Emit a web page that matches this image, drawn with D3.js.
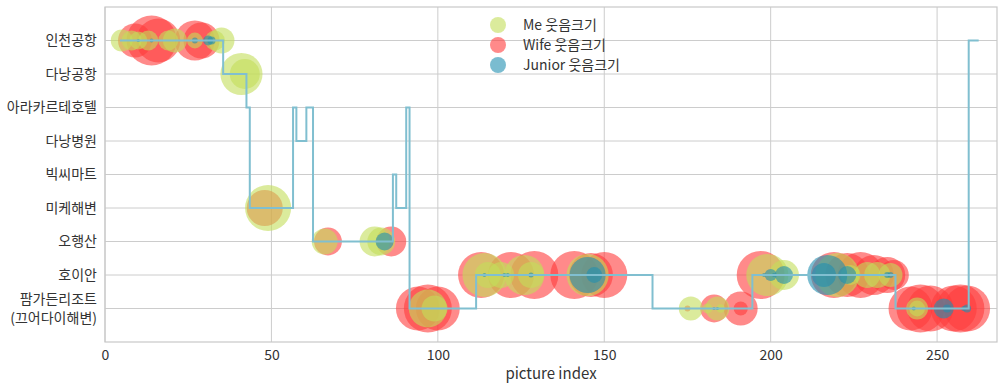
<!DOCTYPE html>
<html>
<head>
<meta charset="utf-8">
<script src="https://cdn.jsdelivr.net/npm/d3@7"></script>
<style>
  body { margin: 0; background: #fff; }
  text { font-family: "Noto Sans CJK KR", "Noto Sans", sans-serif; fill: #333; }
</style>
</head>
<body>
<div class="canvas"></div>
<script>
// places, top to bottom
const places = ["인천공항", "다낭공항", "아라카르테호텔", "다낭병원", "빅씨마트", "미케해변", "오행산", "호이안", "팜가든리조트\n(끄어다이해변)"];

// where the trip was: picture index at which each stay starts
const stepStart = [4.5, 35.5, 42.5, 43.5, 56.5, 57.5, 60.5, 62.5, 86.5, 87.5, 90.5, 91.5, 111.5, 164.5, 194.5, 237.5, 259.5];
const stepPlace = [0, 1, 2, 5, 2, 3, 2, 6, 4, 5, 2, 8, 7, 8, 7, 8, 0];
const stepEnd = 262.5;

// smile size per picture
const meIdx = [5, 8, 10, 13, 19, 21, 27, 33, 35, 41, 42, 49, 66, 81, 83, 97, 99, 114, 115, 119, 126, 128, 145, 176, 181, 184, 185, 199, 204, 220, 224, 229, 232, 236, 244, 244];
const meSmile = [19, 16, 13, 16, 16, 23, 10, 16, 27, 71, 36, 85, 27, 36, 31, 58, 27, 77, 27, 27, 64, 27, 71, 23, 4, 23, 3, 71, 36, 77, 16, 27, 27, 23, 19, 10];

const wifeIdx = [9, 14, 16, 27, 29, 48, 67, 86, 94, 97, 100, 113, 122, 129, 141, 146, 150, 175, 183, 191, 191, 197, 219, 223, 227, 231, 235, 237, 242, 245, 248, 255, 257, 259];
const wifeSmile = [46, 100, 77, 64, 52, 52, 31, 36, 77, 92, 77, 85, 85, 92, 92, 77, 85, 1.4, 31, 46, 8, 92, 85, 77, 85, 64, 52, 36, 77, 92, 85, 85, 92, 85];

const juniorIdx = [10, 14, 27, 31, 32, 84, 114, 120, 121, 128, 145, 147, 183, 184, 198, 200, 201, 204, 216, 217, 223, 235, 236, 243, 252, 253, 258, 259];
const juniorSmile = [0.4, 0.6, 1.4, 4, 2.6, 13, 0.6, 0.6, 0.6, 1, 52, 10, 0.4, 0.4, 0.6, 5.8, 0.6, 13, 23, 64, 13, 1.4, 1.4, 0.6, 16, 2.6, 1, 2.6];

const xTicks = [0, 50, 100, 150, 200, 250];

const dims = { width: 1003, height: 389 };
const margin = { top: 7, right: 6, bottom: 47, left: 105 };
const w = dims.width - margin.left - margin.right;
const h = dims.height - margin.top - margin.bottom;

const svg = d3
  .select(".canvas")
  .append("svg")
  .attr("width", dims.width)
  .attr("height", dims.height);

const graph = svg
  .append("g")
  .attr("transform", `translate(${margin.left}, ${margin.top})`);

const x = d3.scaleLinear().domain([0, 268]).range([0, w]);
const y = d3.scalePoint().domain(d3.range(places.length)).range([0, h]).padding(1);
const r = d3.scaleSqrt().domain([0, 100]).range([0, 25]);

const locAt = (i) => stepPlace[d3.bisectRight(stepStart, i) - 1];

// grid
graph
  .append("g")
  .selectAll("line")
  .data(xTicks)
  .join("line")
  .attr("x1", (d) => x(d))
  .attr("x2", (d) => x(d))
  .attr("y1", 0)
  .attr("y2", h)
  .attr("stroke", "#cccccc")
  .attr("stroke-width", 1);

graph
  .append("g")
  .selectAll("line")
  .data(y.domain())
  .join("line")
  .attr("x1", 0)
  .attr("x2", w)
  .attr("y1", (d) => y(d))
  .attr("y2", (d) => y(d))
  .attr("stroke", "#cccccc")
  .attr("stroke-width", 1);

graph
  .append("rect")
  .attr("width", w)
  .attr("height", h)
  .attr("fill", "none")
  .attr("stroke", "#c8c8c8")
  .attr("stroke-width", 1.2);

// bubbles
const series = [
  { name: "Wife", idx: wifeIdx, smile: wifeSmile, color: "rgb(255,60,60)" },
  { name: "Me", idx: meIdx, smile: meSmile, color: "rgb(195,222,90)" },
  { name: "Junior", idx: juniorIdx, smile: juniorSmile, color: "rgb(33,143,177)" },
];

series.forEach((s) => {
  graph
    .append("g")
    .selectAll("circle")
    .data(s.idx.map((d, i) => ({ i: d, v: s.smile[i] })))
    .join("circle")
    .attr("cx", (d) => x(d.i))
    .attr("cy", (d) => y(locAt(d.i)))
    .attr("r", (d) => r(d.v))
    .attr("fill", s.color)
    .attr("fill-opacity", 0.6);
});

// where we were
const stepPts = stepStart.map((d, i) => [d, stepPlace[i]]);
stepPts.push([stepEnd, stepPlace[stepPlace.length - 1]]);

const line = d3
  .line()
  .x((d) => x(d[0]))
  .y((d) => y(d[1]))
  .curve(d3.curveStepAfter);

graph
  .append("path")
  .attr("d", line(stepPts))
  .attr("fill", "none")
  .attr("stroke", "#80bfd0")
  .attr("stroke-width", 2);

// axes labels
const xAxis = d3.axisBottom(x).tickValues(xTicks).tickSize(0).tickPadding(8);
const gx = graph.append("g").attr("transform", `translate(0, ${h})`).call(xAxis);
gx.select(".domain").remove();
gx.selectAll("text").attr("font-size", 14).style("font-family", null).attr("fill", "#333");

const gy = graph.append("g");
gy.selectAll("text")
  .data(y.domain())
  .join("text")
  .attr("x", -8)
  .attr("y", (d) => y(d))
  .attr("text-anchor", "end")
  .attr("font-size", 14)
  .each(function (d) {
    const lines = places[d].split("\n");
    const el = d3.select(this);
    lines.forEach((t, k) => {
      el.append("tspan")
        .attr("x", -8)
        .attr("dy", k === 0 ? `${0.35 - (lines.length - 1) * 0.68}em` : "1.36em")
        .text(t);
    });
  });

svg
  .append("text")
  .attr("x", margin.left + w / 2)
  .attr("y", dims.height - 10)
  .attr("text-anchor", "middle")
  .attr("font-size", 15)
  .text("picture index");

// legend
const legendGroup = svg.append("g").attr("transform", "translate(498, 25)");
const legendItems = [series[1], series[0], series[2]];
legendItems.forEach((s, i) => {
  legendGroup
    .append("circle")
    .attr("cx", 0)
    .attr("cy", i * 20)
    .attr("r", 8)
    .attr("fill", s.color)
    .attr("fill-opacity", 0.6);
  legendGroup
    .append("text")
    .attr("x", 25)
    .attr("y", i * 20)
    .attr("dy", "0.35em")
    .attr("font-size", 14)
    .text(`${s.name} 웃음크기`);
});
</script>
</body>
</html>
